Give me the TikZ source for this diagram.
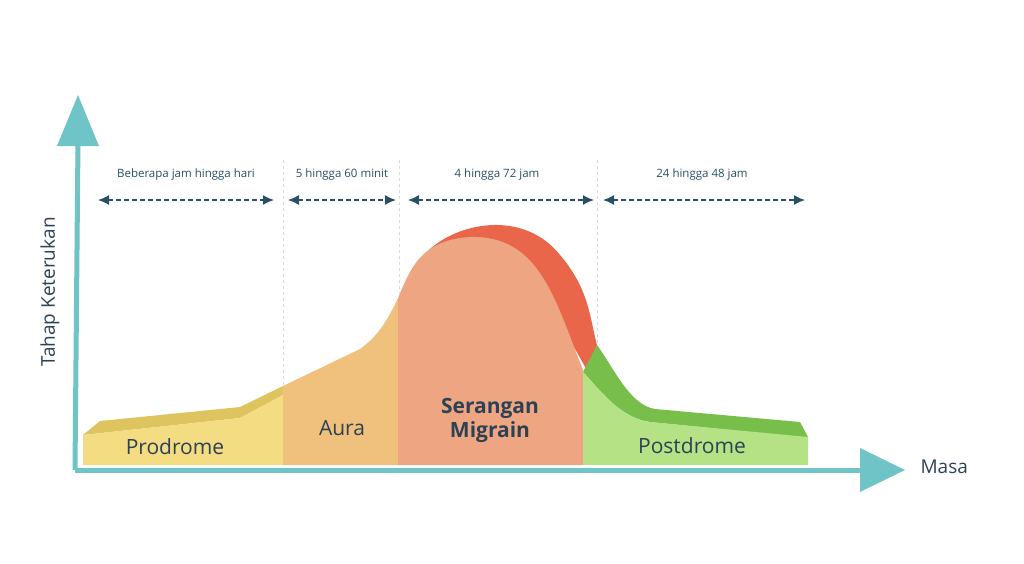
\documentclass[tikz,border=0pt]{standalone}
\usepackage{fontspec}
\setmainfont{Open Sans}
\usetikzlibrary{arrows.meta}
\definecolor{axis}{RGB}{111,196,200}
\definecolor{ink}{RGB}{45,65,85}
\definecolor{span}{RGB}{40,80,100}
\definecolor{prodA}{RGB}{243,220,130}
\definecolor{prodB}{RGB}{222,196,95}
\definecolor{auraC}{RGB}{240,192,125}
\definecolor{attC}{RGB}{238,166,130}
\definecolor{attR}{RGB}{234,102,75}
\definecolor{postA}{RGB}{180,226,132}
\definecolor{postB}{RGB}{120,190,75}
\tikzset{
  phase/.style={font=\fontsize{21}{24}\selectfont, text=ink, align=center},
  span/.style={font=\fontsize{11.5}{13}\selectfont, text=span},
  spanline/.style={draw=span, line width=1.4pt, dash pattern=on 5pt off 3pt, {Latex[length=11pt,width=10pt]}-{Latex[length=11pt,width=10pt]}},
  divider/.style={draw=black!15, dashed}
}
\begin{document}
\begin{tikzpicture}[x=1pt,y=-1pt]
  \useasboundingbox (0,0) rectangle (1024,563);

  % phases
  \fill[prodB] (83,435) -- (100,421) -- (240,407) -- (283,386) -- (283,395) -- (240,418) -- cycle;
  \fill[prodA] (83,435) -- (240,418) -- (283,395) -- (283,465) -- (83,465) -- cycle;
  \fill[auraC] (283,386) -- (360,349) .. controls (380,335) and (390,315) .. (398,298) -- (398,465) -- (283,465) -- cycle;
  \fill[attR] (420,260) .. controls (445,225) and (520,205) .. (560,255)
    .. controls (590,290) and (590,320) .. (597,345) -- (588,372) -- (570,340) -- (530,262) -- (470,250) -- cycle;
  \fill[attC] (398,298) .. controls (410,270) and (420,240) .. (470,237)
    .. controls (540,235) and (555,300) .. (583,370) -- (583,465) -- (398,465) -- cycle;
  \fill[postB] (597,345) .. controls (615,370) and (630,405) .. (655,409)
    -- (800,422) -- (808,437) -- (800,437) -- (650,422) .. controls (620,418) and (600,390) .. (583,372) -- cycle;
  \fill[postA] (583,372) .. controls (600,390) and (620,418) .. (650,422)
    -- (808,437) -- (808,465) -- (583,465) -- cycle;

  \node[phase] (prod) at (175,447) {Prodrome};
  \node[phase] (aura) at (342,428) {Aura};
  \node[phase, font=\fontsize{21}{24}\selectfont\bfseries] (att) at (490,420) {Serangan\\Migrain};
  \node[phase] (post) at (692,446) {Postdrome};

  % axes
  \coordinate (o) at (75,470);
  \coordinate (ytip) at (78,95);
  \coordinate (xtip) at (905,470);
  \draw[axis, line width=5pt] (o) -- (78,140);
  \draw[axis, line width=5pt] (o) -- (865,470);
  \fill[axis] (ytip) -- (99,146) -- (57,146) -- cycle;
  \fill[axis] (xtip) -- (860,448) -- (860,492) -- cycle;
  \node[font=\fontsize{19}{22}\selectfont, text=ink, rotate=90] (ylab) at (50,292) {Tahap Keterukan};
  \node[font=\fontsize{19}{22}\selectfont, text=ink, anchor=west] (xlab) at (917,467) {Masa};

  % spans
  \draw[divider] (283,160) -- (283,386);
  \draw[divider] (399,160) -- (399,298);
  \draw[divider] (597,160) -- (597,345);
  \coordinate (s1a) at (98,200); \coordinate (s1b) at (274,200);
  \coordinate (s2a) at (288,200); \coordinate (s2b) at (396,200);
  \coordinate (s3a) at (408,200); \coordinate (s3b) at (594,200);
  \coordinate (s4a) at (603,200); \coordinate (s4b) at (805,200);
  \draw[spanline] (s1a) -- (s1b);
  \draw[spanline] (s2a) -- (s2b);
  \draw[spanline] (s3a) -- (s3b);
  \draw[spanline] (s4a) -- (s4b);
  \node[span] (t1) at (186,175) {Beberapa jam hingga hari};
  \node[span] (t2) at (342,175) {5 hingga 60 minit};
  \node[span] (t3) at (497,175) {4 hingga 72 jam};
  \node[span] (t4) at (702,175) {24 hingga 48 jam};
\end{tikzpicture}
\end{document}
